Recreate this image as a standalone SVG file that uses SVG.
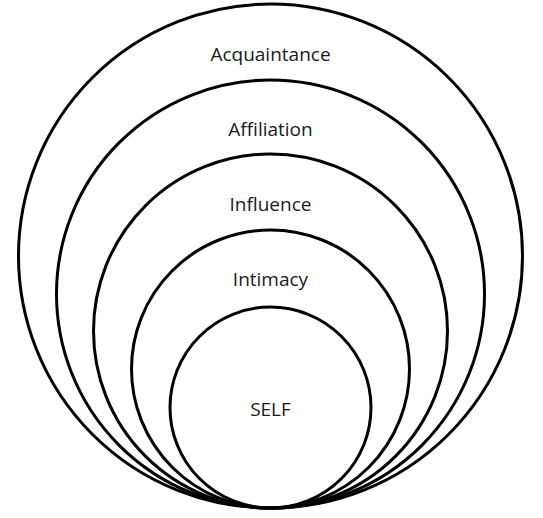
<svg xmlns="http://www.w3.org/2000/svg" width="543" height="518" viewBox="0 0 543 518">
<style>
.ring{fill:none;stroke:#000;stroke-width:3}
.lbl{font-family:"Open Sans","Liberation Sans",sans-serif;font-size:19px;fill:#1a1a1a;text-anchor:middle}
</style>
<rect width="543" height="518" fill="#fff"/>
<g id="acquaintance"><circle class="ring" cx="270.5" cy="256" r="252"/><text class="lbl" x="270.5" y="61">Acquaintance</text></g>
<g id="affiliation"><circle class="ring" cx="270.5" cy="294" r="214"/><text class="lbl" x="270.5" y="136">Affiliation</text></g>
<g id="influence"><circle class="ring" cx="270.5" cy="331" r="177"/><text class="lbl" x="270.5" y="211">Influence</text></g>
<g id="intimacy"><circle class="ring" cx="270.5" cy="369" r="139"/><text class="lbl" x="270.5" y="286">Intimacy</text></g>
<g id="self"><circle class="ring" cx="270.5" cy="407.5" r="100.5"/><text class="lbl" x="270.5" y="416">SELF</text></g>
<g id="connectors"></g>
</svg>
